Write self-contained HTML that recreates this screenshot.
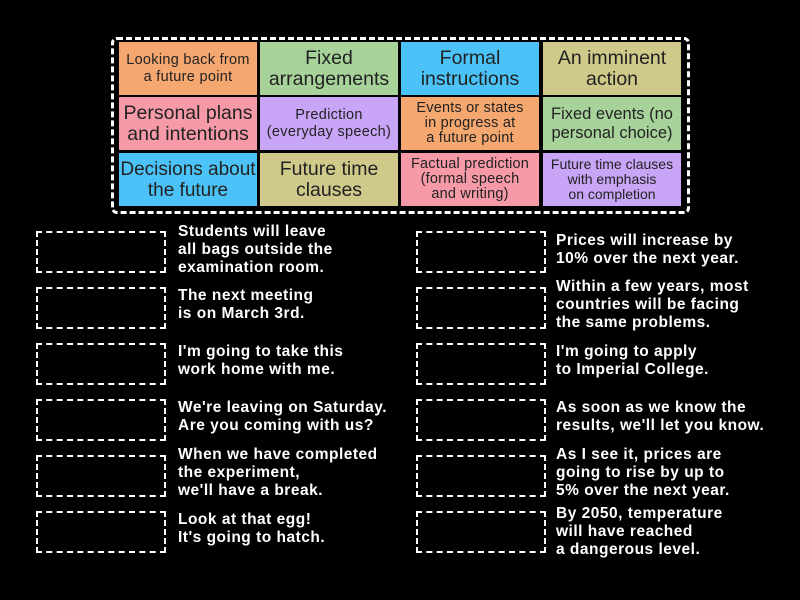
<!DOCTYPE html>
<html><head><meta charset="utf-8"><style>
body{margin:0;width:800px;height:600px;background:#000;position:relative;overflow:hidden;font-family:"Liberation Sans","DejaVu Sans",sans-serif}
.outer{position:absolute;left:111px;top:37px;width:573px;height:171px;border:3px dashed #fff;border-radius:6px}
.t{position:absolute;width:138px;height:53px;display:flex;align-items:center;justify-content:center;text-align:center;color:#222;font-size:19.5px;line-height:21px;white-space:nowrap}
.s{font-size:14.5px;line-height:17px;letter-spacing:0.3px}
.m{font-size:14.5px;line-height:15px;letter-spacing:0.2px}
.o{background:#f4a76e}.g{background:#a7d39a}.b{background:#4cc3f8}.y{background:#cfc98a}.p{background:#f79aa8}.v{background:#c9a5f7}
.box{position:absolute;width:126px;height:38px;border:2px dashed #fff}
.tx{position:absolute;height:42px;display:flex;align-items:center;color:#fff;font-weight:bold;font-size:15.5px;line-height:18px;letter-spacing:0.5px;white-space:nowrap}
</style></head><body>
<div class="outer"></div>
<div class="t o s" style="left:119px;top:42px">Looking back from<br>a future point</div>
<div class="t g" style="left:260px;top:42px">Fixed<br>arrangements</div>
<div class="t b" style="left:401px;top:42px">Formal<br>instructions</div>
<div class="t y" style="left:543px;top:42px">An imminent<br>action</div>
<div class="t p" style="left:119px;top:97px">Personal plans<br>and intentions</div>
<div class="t v s" style="left:260px;top:97px">Prediction<br>(everyday speech)</div>
<div class="t o m" style="left:401px;top:97px">Events or states<br>in progress at<br>a future point</div>
<div class="t g" style="left:543px;top:97px;font-size:16.5px;line-height:19px">Fixed events (no<br>personal choice)</div>
<div class="t b" style="left:119px;top:153px;font-size:19px">Decisions about<br>the future</div>
<div class="t y" style="left:260px;top:153px">Future time<br>clauses</div>
<div class="t p m" style="left:401px;top:153px">Factual prediction<br>(formal speech<br>and writing)</div>
<div class="t v m" style="left:543px;top:153px;font-size:14px;letter-spacing:0">Future time clauses<br>with emphasis<br>on completion</div>

<div class="box" style="left:36px;top:231px"></div><div class="tx" style="left:178px;top:229px">Students will leave<br>all bags outside the<br>examination room.</div>
<div class="box" style="left:36px;top:287px"></div><div class="tx" style="left:178px;top:284px">The next meeting<br>is on March 3rd.</div>
<div class="box" style="left:36px;top:343px"></div><div class="tx" style="left:178px;top:340px">I'm going to take this<br>work home with me.</div>
<div class="box" style="left:36px;top:399px"></div><div class="tx" style="left:178px;top:396px">We're leaving on Saturday.<br>Are you coming with us?</div>
<div class="box" style="left:36px;top:455px"></div><div class="tx" style="left:178px;top:452px">When we have completed<br>the experiment,<br>we'll have a break.</div>
<div class="box" style="left:36px;top:511px"></div><div class="tx" style="left:178px;top:508px">Look at that egg!<br>It's going to hatch.</div>

<div class="box" style="left:416px;top:231px"></div><div class="tx" style="left:556px;top:229px">Prices will increase by<br>10% over the next year.</div>
<div class="box" style="left:416px;top:287px"></div><div class="tx" style="left:556px;top:284px">Within a few years, most<br>countries will be facing<br>the same problems.</div>
<div class="box" style="left:416px;top:343px"></div><div class="tx" style="left:556px;top:340px">I'm going to apply<br>to Imperial College.</div>
<div class="box" style="left:416px;top:399px"></div><div class="tx" style="left:556px;top:396px">As soon as we know the<br>results, we'll let you know.</div>
<div class="box" style="left:416px;top:455px"></div><div class="tx" style="left:556px;top:452px">As I see it, prices are<br>going to rise by up to<br>5% over the next year.</div>
<div class="box" style="left:416px;top:511px"></div><div class="tx" style="left:556px;top:511px">By 2050, temperature<br>will have reached<br>a dangerous level.</div>
</body></html>
